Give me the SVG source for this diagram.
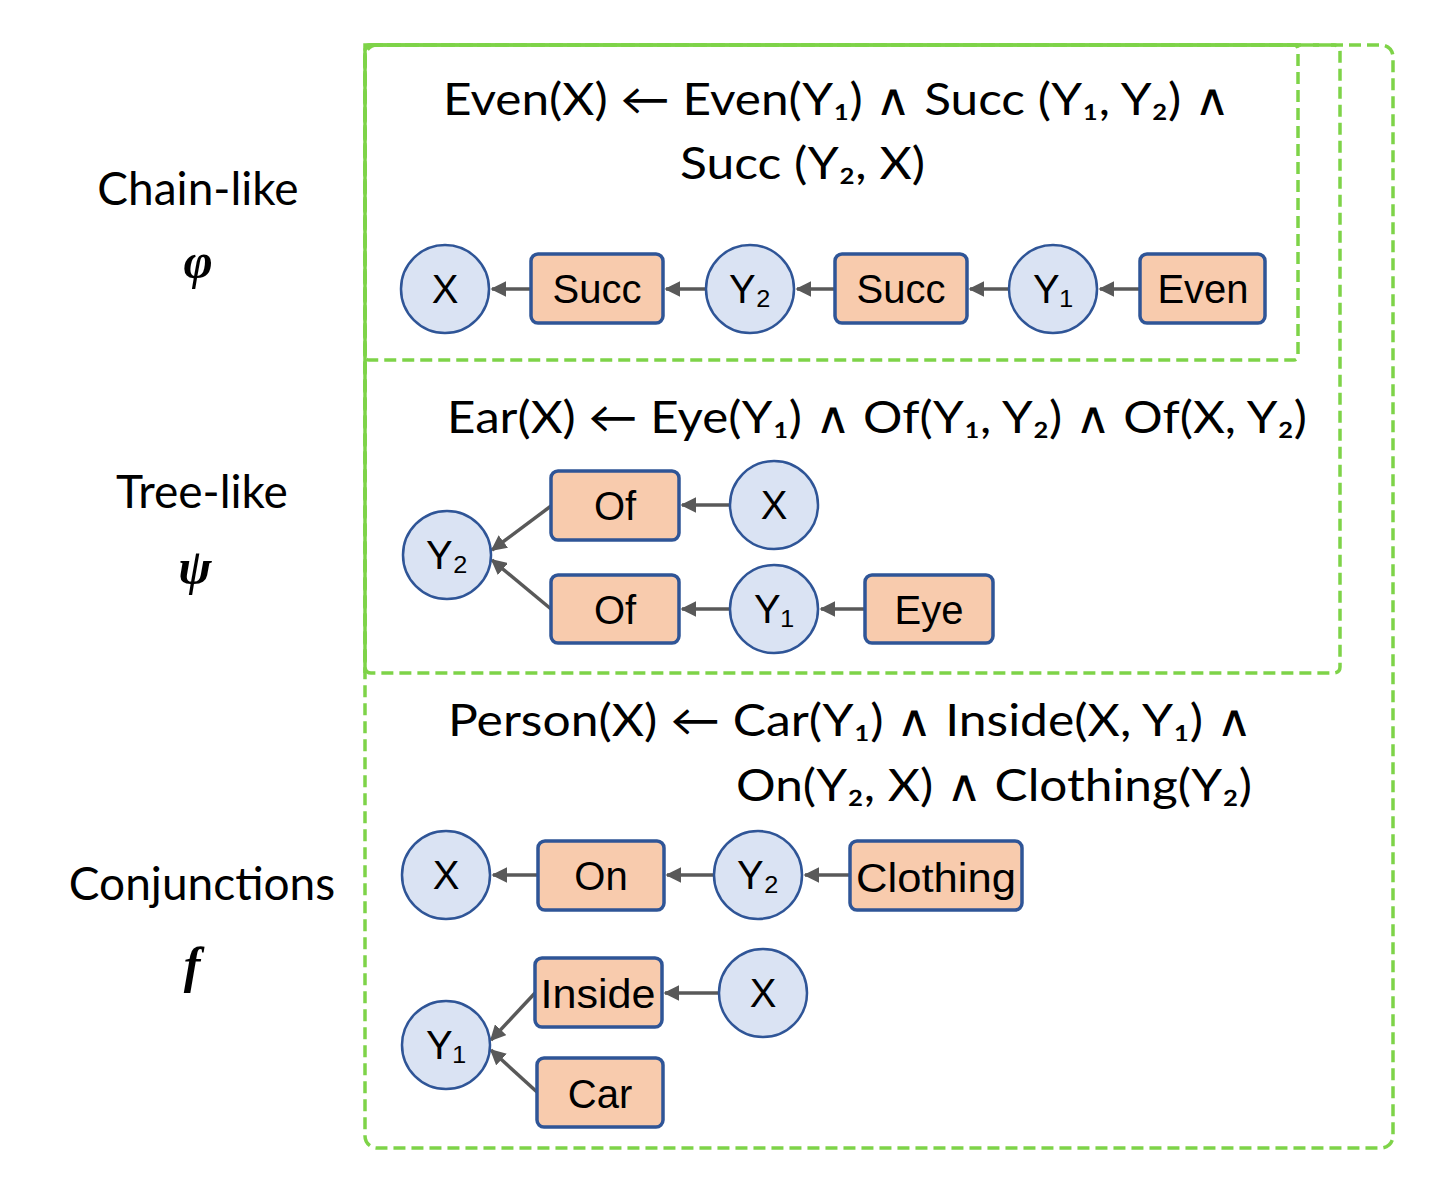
<svg xmlns="http://www.w3.org/2000/svg" width="1440" height="1184" viewBox="0 0 1440 1184">
<style>
.frame{fill:none;stroke:#7ed348;stroke-width:3.5;stroke-dasharray:12 6}
.c{fill:#dae3f3;stroke:#2f5597;stroke-width:2.5}
.r{fill:#f8cbad;stroke:#2f5597;stroke-width:3.5}
.nt{font-family:"Liberation Sans",Arial,sans-serif;font-size:40px;fill:#000;text-anchor:middle}
.f{font-family:Lato,"Open Sans",sans-serif;font-size:44px;fill:#000}
.lab{font-family:Lato,"Open Sans",sans-serif;font-size:46px;fill:#000;text-anchor:middle}
.g{font-family:"Liberation Serif",serif;font-size:50px;font-weight:bold;font-style:italic;text-anchor:middle}
.e{stroke:#595959;stroke-width:3.5;fill:none;marker-end:url(#a)}
</style>
<defs><marker id="a" viewBox="0 0 10 10" refX="9" refY="5" markerWidth="4.5" markerHeight="4.5" orient="auto" markerUnits="strokeWidth"><path d="M0,0 L10,5 L0,10 z" fill="#595959"/></marker></defs>
<rect width="1440" height="1184" fill="#fff"/>
<g id="frames">
<rect class="frame" x="365" y="45" width="1028" height="1103" rx="12"/>
<rect class="frame" x="365" y="45" width="975" height="628" rx="6"/>
<rect class="frame" x="365" y="45" width="933" height="315" rx="4"/>
<path d="M365,673 V45 H1298" stroke="#7ed348" stroke-width="3.5" fill="none"/>
</g>
<g id="labels">
<text class="lab" x="198" y="205">Chain-like</text><text class="g" x="198" y="278">φ</text>
<text class="lab" x="202" y="508">Tree-like</text><text class="g" x="195" y="584">ψ</text>
<text class="lab" x="202" y="900">Conjunctions</text><text class="g" x="192" y="982">f</text>
</g>
<g id="formulas">
<text class="f" x="443" y="115" textLength="787" lengthAdjust="spacingAndGlyphs">Even(X) ← Even(Y₁) ∧ Succ (Y₁, Y₂) ∧</text>
<text class="f" x="680" y="179" textLength="245" lengthAdjust="spacingAndGlyphs">Succ (Y₂, X)</text>
<text class="f" x="447" y="433" textLength="860" lengthAdjust="spacingAndGlyphs">Ear(X) ← Eye(Y₁) ∧ Of(Y₁, Y₂) ∧ Of(X, Y₂)</text>
<text class="f" x="448" y="736" textLength="804" lengthAdjust="spacingAndGlyphs">Person(X) ← Car(Y₁) ∧ Inside(X, Y₁) ∧</text>
<text class="f" x="736" y="801" textLength="516" lengthAdjust="spacingAndGlyphs">On(Y₂, X) ∧ Clothing(Y₂)</text>
</g>
<g id="connectors">
<line class="e" x1="531" y1="289" x2="492" y2="289"/>
<line class="e" x1="706" y1="289" x2="666" y2="289"/>
<line class="e" x1="835" y1="289" x2="797" y2="289"/>
<line class="e" x1="1009" y1="289" x2="970" y2="289"/>
<line class="e" x1="1140" y1="289" x2="1100" y2="289"/>
<line class="e" x1="551" y1="506" x2="492" y2="550"/>
<line class="e" x1="551" y1="609" x2="492" y2="560"/>
<line class="e" x1="730" y1="505" x2="682" y2="505"/>
<line class="e" x1="730" y1="609" x2="682" y2="609"/>
<line class="e" x1="865" y1="609" x2="821" y2="609"/>
<line class="e" x1="538" y1="875" x2="493" y2="875"/>
<line class="e" x1="714" y1="875" x2="667" y2="875"/>
<line class="e" x1="850" y1="875" x2="805" y2="875"/>
<line class="e" x1="719" y1="993" x2="665" y2="993"/>
<line class="e" x1="535" y1="993" x2="491" y2="1040"/>
<line class="e" x1="537" y1="1092" x2="491" y2="1050"/>
</g>
<g id="n1"><circle class="c" cx="445" cy="289" r="44"/><text class="nt" x="445" y="303">X</text></g>
<g id="n2"><rect class="r" x="531" y="254" width="132" height="69" rx="7"/><text class="nt" x="597" y="303">Succ</text></g>
<g id="n3"><circle class="c" cx="750" cy="289" r="44"/><text class="nt" x="750" y="303">Y₂</text></g>
<g id="n4"><rect class="r" x="835" y="254" width="132" height="69" rx="7"/><text class="nt" x="901" y="303">Succ</text></g>
<g id="n5"><circle class="c" cx="1053" cy="289" r="44"/><text class="nt" x="1053" y="303">Y₁</text></g>
<g id="n6"><rect class="r" x="1140" y="254" width="125" height="69" rx="7"/><text class="nt" x="1203" y="303">Even</text></g>
<g id="t1"><circle class="c" cx="447" cy="555" r="44"/><text class="nt" x="447" y="569">Y₂</text></g>
<g id="t2"><rect class="r" x="551" y="471" width="128" height="69" rx="7"/><text class="nt" x="615" y="520">Of</text></g>
<g id="t3"><circle class="c" cx="774" cy="505" r="44"/><text class="nt" x="774" y="519">X</text></g>
<g id="t4"><rect class="r" x="551" y="575" width="128" height="68" rx="7"/><text class="nt" x="615" y="624">Of</text></g>
<g id="t5"><circle class="c" cx="774" cy="609" r="44"/><text class="nt" x="774" y="623">Y₁</text></g>
<g id="t6"><rect class="r" x="865" y="575" width="128" height="68" rx="7"/><text class="nt" x="929" y="624">Eye</text></g>
<g id="c1"><circle class="c" cx="446" cy="875" r="44"/><text class="nt" x="446" y="889">X</text></g>
<g id="c2"><rect class="r" x="538" y="841" width="126" height="69" rx="7"/><text class="nt" x="601" y="890">On</text></g>
<g id="c3"><circle class="c" cx="758" cy="875" r="44"/><text class="nt" x="758" y="889">Y₂</text></g>
<g id="c4"><rect class="r" x="850" y="841" width="172" height="69" rx="7"/><text class="nt" x="936" y="892" textLength="160" lengthAdjust="spacingAndGlyphs">Clothing</text></g>
<g id="c5"><rect class="r" x="535" y="958" width="127" height="69" rx="7"/><text class="nt" x="598" y="1008" textLength="115" lengthAdjust="spacingAndGlyphs">Inside</text></g>
<g id="c6"><circle class="c" cx="763" cy="993" r="44"/><text class="nt" x="763" y="1007">X</text></g>
<g id="c7"><circle class="c" cx="446" cy="1045" r="44"/><text class="nt" x="446" y="1059">Y₁</text></g>
<g id="c8"><rect class="r" x="537" y="1058" width="126" height="69" rx="7"/><text class="nt" x="600" y="1108">Car</text></g>
</svg>
